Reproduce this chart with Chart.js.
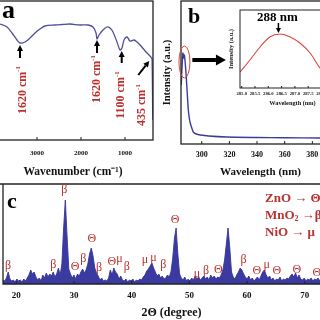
<!DOCTYPE html>
<html>
<head>
<meta charset="utf-8">
<script src="https://cdn.jsdelivr.net/npm/chart.js@4.4.0/dist/chart.umd.min.js"></script>
<style>
  html, body { margin: 0; padding: 0; background: #fff; }
  #wrap { position: relative; width: 320px; height: 320px; overflow: hidden; background: #fff; }
  .box { position: absolute; }
</style>
</head>
<body>
<div id="wrap">
  <div class="box" style="left:-7px;top:0px;width:162px;height:179px"><canvas id="chartA"></canvas></div>
  <div class="box" style="left:159px;top:0px;width:181px;height:179px"><canvas id="chartB"></canvas></div>
  <div class="box" style="left:228px;top:9px;width:117px;height:98px"><canvas id="chartInset"></canvas></div>
  <div class="box" style="left:0px;top:183px;width:340px;height:137px"><canvas id="chartC"></canvas></div>
</div>
<script>
// (a) FTIR
const wavenumber = [4000, 3841, 3682, 3568, 3455, 3386, 3273, 3159, 3045, 2932, 2818, 2591, 2432, 2250, 2023, 1841, 1727, 1659, 1636, 1591, 1500, 1409, 1341, 1273, 1182, 1114, 1068, 1023, 955, 886, 795, 727, 636, 523, 432, 400, 385, 370, 364];
const transmittance = [118, 116, 113, 107, 100, 97, 98, 102, 107, 111, 114, 115, 115.5, 116, 115, 115, 113, 107, 101, 105, 110, 113, 112, 108, 98, 90, 92, 100, 103, 99, 100, 98, 94, 88, 84, 82, 81, 25, 20];
const ftirTicks = [4000, 3000, 2000, 1000];
const ftirPeakLabel = ['1620', '1620', '1100', '435'];
const ftirLabelAt = [[3330, 50], [1643, 61], [1098, 45], [620, 35]];
const ftirArrowFrom = [[3386, 82], [1636, 87], [1075, 77], [698, 65]];
const ftirArrowTo = [[3386, 95], [1636, 100], [1075, 89], [448, 79]];

// (b) spectrum + inset
const wavelength = [285.2, 285.8, 286.4, 286.9, 287.4, 288.0, 288.8, 289.5, 290.3, 291.0, 291.7, 292.8, 293.9, 296, 299, 305, 318, 340, 360, 385, 400];
const intensity = [59, 79, 91, 86, 89, 82, 67, 51, 34, 26, 21, 16, 12, 10, 9, 8, 7, 6.5, 6.2, 6, 6];
const specTicks = [300, 320, 340, 360, 380];
const insetWavelength = [284.94, 285.31, 285.69, 286.06, 286.44, 286.82, 287.19, 287.57, 287.94, 288.3, 288.88];
const insetIntensity = [16, 28, 41, 51, 54, 51, 45, 35, 20, 8, -10];
const insetTicks = [285.0, 285.5, 286.0, 286.5, 287.0, 287.5, 288.0];

// (c) XRD
const twoTheta = [
  17.7, 18.0, 18.3, 18.6, 18.9, 19.2, 19.5, 19.8, 20.1, 20.4,
  20.7, 21.0, 21.3, 21.6, 21.9, 22.2, 22.5, 22.8, 23.1, 23.4,
  23.7, 24.0, 24.3, 24.6, 24.9, 25.2, 25.5, 25.8, 26.1, 26.4,
  26.7, 27.0, 27.3, 27.6, 27.9, 28.2, 28.5, 28.8, 29.1, 29.4,
  29.7, 30.0, 30.3, 30.6, 30.9, 31.2, 31.5, 31.8, 32.1, 32.4,
  32.7, 33.0, 33.3, 33.6, 33.9, 34.2, 34.5, 34.8, 35.1, 35.4,
  35.7, 36.0, 36.3, 36.6, 36.9, 37.2, 37.5, 37.8, 38.1, 38.4,
  38.7, 39.0, 39.3, 39.6, 39.9, 40.2, 40.5, 40.8, 41.1, 41.4,
  41.7, 42.0, 42.3, 42.6, 42.9, 43.2, 43.5, 43.8, 44.1, 44.4,
  44.7, 45.0, 45.3, 45.6, 45.9, 46.2, 46.5, 46.8, 47.1, 47.4,
  47.7, 48.0, 48.3, 48.6, 48.9, 49.2, 49.5, 49.8, 50.1, 50.4,
  50.7, 51.0, 51.3, 51.6, 51.9, 52.2, 52.5, 52.8, 53.1, 53.4,
  53.7, 54.0, 54.3, 54.6, 54.9, 55.2, 55.5, 55.8, 56.1, 56.4,
  56.7, 57.0, 57.3, 57.6, 57.9, 58.2, 58.5, 58.8, 59.1, 59.4,
  59.7, 60.0, 60.3, 60.6, 60.9, 61.2, 61.5, 61.8, 62.1, 62.4,
  62.7, 63.0, 63.3, 63.6, 63.9, 64.2, 64.5, 64.8, 65.1, 65.4,
  65.7, 66.0, 66.3, 66.6, 66.9, 67.2, 67.5, 67.8, 68.1, 68.4,
  68.7, 69.0, 69.3, 69.6, 69.9, 70.2, 70.5, 70.8, 71.1, 71.4,
  71.7, 72.0, 72.3, 72.6, 72.9, 73.2, 73.5, 73.8, 74.1, 74.4,
  74.7, 75.0, 75.3, 75.6, 75.9, 76.2];
const xrdCounts = [
  4, 3, 6, 12, 5, 3, 4, 2, 5, 3,
  4, 2, 5, 3, 6, 9, 14, 10, 12, 7,
  4, 6, 3, 9, 6, 11, 7, 10, 8, 12,
  7, 10, 16, 9, 20, 55, 84, 48, 15, 10,
  6, 9, 5, 10, 8, 12, 15, 11, 14, 20,
  30, 36, 28, 16, 11, 8, 4, 6, 3, 4,
  3, 6, 14, 9, 16, 12, 10, 5, 8, 4,
  3, 5, 2, 4, 3, 5, 2, 4, 3, 5,
  4, 7, 9, 13, 15, 18, 21, 16, 12, 8,
  10, 6, 8, 5, 6, 9, 7, 12, 25, 45,
  56, 30, 10, 6, 4, 7, 3, 5, 3, 6,
  4, 8, 5, 7, 4, 6, 8, 5, 7, 4,
  9, 6, 8, 5, 7, 6, 9, 14, 24, 40,
  56, 36, 12, 7, 5, 9, 12, 16, 14, 10,
  7, 5, 8, 4, 6, 3, 5, 7, 4, 8,
  12, 14, 9, 6, 8, 4, 6, 3, 5, 4,
  7, 3, 5, 4, 6, 5, 8, 10, 7, 11,
  6, 9, 5, 4, 6, 3, 5, 4, 6, 3,
  5, 4, 6, 3, 5, 4, 3, 5, 4, 3,
  4, 5, 3, 4, 3, 4];
const xrdTicks = [20, 30, 40, 50, 60, 70];
const phaseAngle = [18.57, 28.33, 26.4, 30.2, 31.6, 33.08, 34.35, 36.55, 37.87, 39.15, 42.32, 43.76, 45.5, 47.5, 51.3, 52.9, 55.0, 59.37, 61.7, 63.4, 65.16, 68.6, 72.1];
const phaseHeight = [18, 94, 19, 17, 25, 45, 16, 22, 25, 17, 24, 26, 19, 64, 10, 13, 14, 24, 13, 19, 13, 14, 11];
const phaseMark = ['β', 'β', 'β', 'Θ', 'β', 'Θ', 'β', 'Θ', 'μ', 'β', 'μ', 'μ', 'β', 'Θ', 'μ', 'β', 'Θ', 'β', 'Θ', 'μ', 'Θ', 'Θ', 'Θ'];

const FONT = "'Liberation Serif', 'Times New Roman', serif";
const RED = '#b8312f';

function pts(xs, ys) { return xs.map((v, i) => ({ x: v, y: ys[i] })); }

function arrow(ctx, x1, y1, x2, y2, lw, hl, hw) {
  const a = Math.atan2(y2 - y1, x2 - x1);
  const bx = x2 - hl * Math.cos(a), by = y2 - hl * Math.sin(a);
  ctx.lineWidth = lw;
  ctx.beginPath(); ctx.moveTo(x1, y1); ctx.lineTo(bx, by); ctx.stroke();
  ctx.beginPath(); ctx.moveTo(x2, y2);
  ctx.lineTo(bx + hw / 2 * Math.sin(a), by - hw / 2 * Math.cos(a));
  ctx.lineTo(bx - hw / 2 * Math.sin(a), by + hw / 2 * Math.cos(a));
  ctx.closePath(); ctx.fill();
}

// text made of pieces (for super/subscripts)
function rich(ctx, x, y, segs, rot, align) {
  ctx.save();
  ctx.translate(x, y); ctx.rotate(rot || 0);
  ctx.textBaseline = 'middle'; ctx.textAlign = 'left';
  let w = 0;
  segs.forEach(s => { ctx.font = 'bold ' + s.size + 'px ' + FONT; s.w = ctx.measureText(s.t).width; w += s.w; });
  let cx = align === 'left' ? 0 : -w / 2;
  segs.forEach(s => { ctx.font = 'bold ' + s.size + 'px ' + FONT; ctx.fillText(s.t, cx, s.dy || 0); cx += s.w; });
  ctx.restore();
}

function tickMarks(chart, ctx, len) {
  const xs = chart.scales.x, b = chart.chartArea.bottom;
  ctx.lineWidth = 1;
  xs.ticks.forEach(t => {
    const p = xs.getPixelForValue(t.value);
    ctx.beginPath(); ctx.moveTo(p, b); ctx.lineTo(p, b - len); ctx.stroke();
  });
}

function xAxis(min, max, ticks, size, pad, title, tsize, h, fmt) {
  return {
    type: 'linear', min: min, max: max,
    afterBuildTicks: s => { s.ticks = ticks.map(v => ({ value: v })); },
    afterFit: s => { s.height = h; s.paddingLeft = 0; s.paddingRight = 0; },
    grid: { display: false, drawTicks: false },
    border: { display: false },
    ticks: { autoSkip: false, maxRotation: 0, padding: pad, color: '#111',
      font: { family: FONT, size: size, weight: 'bold' },
      callback: fmt || (v => v) },
    title: { display: true, text: title, color: '#111', padding: 0,
      font: { family: FONT, size: tsize, weight: 'bold' } }
  };
}

const base = {
  responsive: true, maintainAspectRatio: false, animation: false,
  plugins: { legend: { display: false }, tooltip: { enabled: false } },
  elements: { point: { radius: 0 } }
};

// ---------- (a)
const axA = xAxis(364, 4000, ftirTicks, 7, 8.8, 'Wavenumber (cm⁻¹)', 11.5, 39);
axA.reverse = true;
new Chart(document.getElementById('chartA'), {
  type: 'line',
  data: { datasets: [{ data: pts(wavenumber, transmittance), borderColor: '#4f4f9c', borderWidth: 1.3, tension: 0.3 }] },
  options: Object.assign({}, base, {
    layout: { autoPadding: false, padding: { top: 1, right: 2 } },
    scales: { x: axA, y: { display: false, min: 0, max: 139 } }
  }),
  plugins: [{ id: 'decoA', afterDraw(chart) {
    const ctx = chart.ctx, ar = chart.chartArea, xs = chart.scales.x, ys = chart.scales.y;
    ctx.save();
    ctx.strokeStyle = '#222'; ctx.lineWidth = 1.3;
    ctx.strokeRect(ar.left, ar.top, ar.right - ar.left, ar.bottom - ar.top);
    tickMarks(chart, ctx, 3);
    ctx.fillStyle = '#000'; ctx.strokeStyle = '#000';
    ftirArrowFrom.forEach((f, i) => {
      const t = ftirArrowTo[i];
      arrow(ctx, xs.getPixelForValue(f[0]), ys.getPixelForValue(f[1]), xs.getPixelForValue(t[0]), ys.getPixelForValue(t[1]), 2, 6, 6);
    });
    ctx.fillStyle = RED;
    ftirLabelAt.forEach((p, i) => {
      rich(ctx, xs.getPixelForValue(p[0]), ys.getPixelForValue(p[1]),
        [{ t: ftirPeakLabel[i] + ' cm', size: 12 }, { t: '-1', size: 7, dy: -4 }], -Math.PI / 2);
    });
    ctx.fillStyle = '#000';
    ctx.font = 'bold 26px ' + FONT; ctx.textBaseline = 'alphabetic'; ctx.textAlign = 'left';
    ctx.fillText('a', 9, 18);
    ctx.restore();
  } }]
});

// ---------- (b)
const axB = xAxis(285, 400, specTicks, 8, 6.2, 'Wavelength (nm)', 11, 35);
new Chart(document.getElementById('chartB'), {
  type: 'line',
  data: { datasets: [{ data: pts(wavelength, intensity), borderColor: '#3c3c98', borderWidth: 1.4, tension: 0.25 }] },
  options: Object.assign({}, base, {
    layout: { autoPadding: false, padding: { top: 1 } },
    scales: {
      x: axB,
      y: { min: 0, max: 143, afterFit: s => { s.width = 22; },
        grid: { display: false, drawTicks: false }, border: { display: false },
        ticks: { display: false },
        title: { display: true, text: 'Intensity (a.u.)', color: '#111', padding: { top: 1.7, bottom: 0 },
          font: { family: FONT, size: 10.5, weight: 'bold' } } }
    }
  }),
  plugins: [{ id: 'decoB', afterDraw(chart) {
    const ctx = chart.ctx, ar = chart.chartArea, xs = chart.scales.x, ys = chart.scales.y;
    ctx.save();
    ctx.strokeStyle = '#222'; ctx.lineWidth = 1.3;
    ctx.strokeRect(ar.left, ar.top, ar.right - ar.left + 5, ar.bottom - ar.top);
    tickMarks(chart, ctx, 3);
    // ellipse round the peak
    ctx.strokeStyle = '#d04a3a'; ctx.lineWidth = 1;
    ctx.beginPath();
    ctx.ellipse(xs.getPixelForValue(287.5), ys.getPixelForValue(82), 5.5, 16, 0, 0, Math.PI * 2);
    ctx.stroke();
    ctx.fillStyle = '#000'; ctx.strokeStyle = '#000';
    arrow(ctx, xs.getPixelForValue(293.2), ys.getPixelForValue(84), xs.getPixelForValue(317.5), ys.getPixelForValue(84), 4, 10, 11);
    ctx.font = 'bold 22px ' + FONT; ctx.textBaseline = 'alphabetic'; ctx.textAlign = 'left';
    ctx.fillText('b', ar.left + 7, 23);
    ctx.restore();
  } }]
});

// ---------- inset
const axI = xAxis(284.936, 288.883, insetTicks, 4.7, 3.2, 'Wavelength (nm)', 6.3, 19, v => v.toFixed(1));
new Chart(document.getElementById('chartInset'), {
  type: 'line',
  data: { datasets: [{ data: pts(insetWavelength, insetIntensity), borderColor: '#e0443c', borderWidth: 1.1, tension: 0.4 }] },
  options: Object.assign({}, base, {
    layout: { autoPadding: false, padding: { top: 1 } },
    scales: {
      x: axI,
      y: { min: 0, max: 78, afterFit: s => { s.width = 12; },
        grid: { display: false, drawTicks: false }, border: { display: false },
        ticks: { display: false },
        title: { display: true, text: 'Intensity (a.u.)', color: '#111', padding: 0,
          font: { family: FONT, size: 6.4, weight: 'bold' } } }
    }
  }),
  plugins: [{ id: 'decoI',
    beforeDatasetsDraw(chart) {
      const ctx = chart.ctx, ar = chart.chartArea;
      ctx.save(); ctx.fillStyle = '#fff';
      ctx.fillRect(ar.left, ar.top, ar.right - ar.left, ar.bottom - ar.top);
      ctx.restore();
    },
    afterDraw(chart) {
      const ctx = chart.ctx, ar = chart.chartArea, xs = chart.scales.x, ys = chart.scales.y;
      ctx.save();
      ctx.strokeStyle = '#222'; ctx.lineWidth = 1;
      ctx.strokeRect(ar.left, ar.top, ar.right - ar.left + 5, ar.bottom - ar.top);
      tickMarks(chart, ctx, 2);
      ctx.fillStyle = '#000'; ctx.strokeStyle = '#000';
      ctx.font = 'bold 13px ' + FONT; ctx.textBaseline = 'middle'; ctx.textAlign = 'center';
      ctx.fillText('288 nm', xs.getPixelForValue(286.34), ys.getPixelForValue(70.5));
      arrow(ctx, xs.getPixelForValue(286.38), ys.getPixelForValue(65), xs.getPixelForValue(286.38), ys.getPixelForValue(55), 1.5, 5, 5);
      ctx.restore();
    } }]
});

// ---------- (c)
const axC = xAxis(17.7, 76.1, xrdTicks, 9, 6.6, '2Θ (degree)', 12, 36);
new Chart(document.getElementById('chartC'), {
  type: 'line',
  data: { datasets: [{ data: pts(twoTheta, xrdCounts), borderColor: '#34349a', backgroundColor: '#3a3aa0',
    borderWidth: 0.9, tension: 0, fill: 'origin' }] },
  options: Object.assign({}, base, {
    layout: { autoPadding: false, padding: { top: 1, left: 3 } },
    scales: { x: axC, y: { display: false, min: 0, max: 100 } }
  }),
  plugins: [{ id: 'decoC', afterDraw(chart) {
    const ctx = chart.ctx, ar = chart.chartArea, xs = chart.scales.x, ys = chart.scales.y;
    ctx.save();
    ctx.strokeStyle = '#222'; ctx.lineWidth = 1.3;
    ctx.beginPath();
    ctx.moveTo(0, ar.top); ctx.lineTo(ar.right, ar.top);
    ctx.moveTo(ar.left, ar.top); ctx.lineTo(ar.left, ar.bottom); ctx.lineTo(ar.right, ar.bottom);
    ctx.stroke();
    tickMarks(chart, ctx, 3);
    ctx.fillStyle = RED;
    ctx.font = '12px ' + FONT; ctx.textBaseline = 'middle'; ctx.textAlign = 'center';
    phaseAngle.forEach((a, i) => {
      ctx.fillText(phaseMark[i], xs.getPixelForValue(a), ys.getPixelForValue(phaseHeight[i]));
    });
    const lx = ar.left + 262;
    rich(ctx, lx, ar.top + 15, [{ t: 'ZnO → Θ', size: 13 }], 0, 'left');
    rich(ctx, lx, ar.top + 32, [{ t: 'MnO', size: 13 }, { t: '2', size: 8, dy: 3 }, { t: ' →β', size: 13 }], 0, 'left');
    rich(ctx, lx, ar.top + 49, [{ t: 'NiO → μ', size: 13 }], 0, 'left');
    ctx.fillStyle = '#000';
    ctx.font = 'bold 22px ' + FONT; ctx.textBaseline = 'alphabetic'; ctx.textAlign = 'left';
    ctx.fillText('c', ar.left + 4, ar.top + 24);
    ctx.restore();
  } }]
});
</script>
</body>
</html>
